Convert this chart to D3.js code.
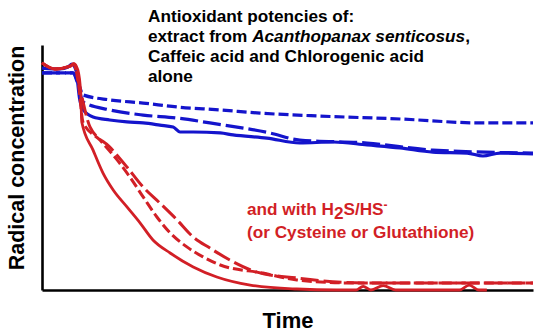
<!DOCTYPE html>
<html>
<head>
<meta charset="utf-8">
<script src="https://cdn.jsdelivr.net/npm/d3@7"></script>
<style>
  body { margin: 0; background: #fff; }
  svg text { font-family: "Liberation Sans", Arial, Helvetica, sans-serif; font-weight: bold; }
</style>
</head>
<body>
<svg id="chart"></svg>
<script>
// Values: time 0..100, radical concentration 0..100
var blueSolidT  = [0, 3.7, 5.3, 6.1, 6.9, 7.7, 8.4, 10.4, 13.8, 17.3, 20.6, 24, 26.7, 28.1, 30.8, 36.3, 38.9, 45.8, 52.5, 59.3, 66.2, 72.9, 79.6, 86.6, 89.8, 93.3, 100];
var blueSolidC  = [90.6, 90.2, 91, 92.2, 89.8, 77.6, 73.5, 70.6, 69.4, 68.6, 68.2, 67.3, 66.5, 64.5, 64.5, 64.1, 63.3, 62, 60, 60.4, 59.2, 58, 56.3, 55.9, 54.7, 55.9, 55.5];
var blueLongT   = [0, 6.3, 7.3, 8.4, 13.8, 20.6, 27.5, 34.2, 46.4, 52.5, 66.2, 79.6, 100];
var blueLongC   = [88.6, 88.6, 84, 76.7, 73.5, 71.4, 70.2, 68.2, 64.1, 61.2, 60, 57.1, 55.9];
var blueShortT  = [0, 6.3, 7.3, 8.4, 13.8, 20.6, 27.5, 36.3, 44.4, 56.6, 72.9, 89.2, 100];
var blueShortC  = [88.6, 88.6, 85, 79.6, 77.6, 76.3, 74.7, 73.5, 72.2, 71, 69.8, 68.2, 68.2];
var redSolidT   = [0, 1.6, 2.6, 5.7, 6.5, 7.3, 7.9, 8.1, 10.4, 12.4, 14.5, 17.3, 20, 22.6, 26.1, 30.8, 35.6, 42.4, 51.9, 60, 64, 65.4, 67, 69.5, 72, 85, 87, 89, 90.6];
var redSolidC   = [92.7, 90.8, 90.2, 91.4, 92.4, 89.8, 80, 68.6, 57.1, 47.8, 40.8, 33.9, 27.3, 20.4, 15.1, 9.4, 5.3, 2, 0.4, 0, 0, 1.5, 0, 1.8, 0, 0, 2, 0, 0];
var redShortT   = [0, 2.6, 5.7, 6.5, 7.3, 8.4, 11.8, 15.3, 17.9, 20.6, 23.4, 26.1, 29.5, 32.8, 36.3, 45, 51.9, 62.1, 70, 80, 90, 100];
var redShortC   = [92.7, 90.2, 91.4, 92.2, 86, 68.2, 61.2, 53.1, 46.1, 38, 29.8, 23.3, 17.6, 13.5, 10.2, 6.9, 4.1, 2.9, 2.9, 2.9, 2.9, 2.9];
var redLongT    = [0, 2.6, 5.7, 6.5, 7.3, 9.8, 13.8, 17.3, 20.6, 24, 27.5, 30.8, 34.2, 38.3, 43.8, 51.9, 65.4, 80, 100];
var redLongC    = [92.7, 90.2, 91.4, 92.2, 86, 66.5, 58.4, 50.2, 42, 35.5, 28.6, 21.6, 17.1, 12.2, 7.3, 4.9, 2.9, 2.9, 2.9];

var titleLines = ["Antioxidant potencies of:", "extract from ", "Caffeic acid and Chlorogenic acid", "alone"];
var blue = "#1414cc", red = "#d21f26";

var width = 550, height = 333;
var svg = d3.select("#chart").attr("width", width).attr("height", height);

var x = d3.scaleLinear().domain([0, 100]).range([42, 533]);
var y = d3.scaleLinear().domain([0, 100]).range([290, 45]);

function zip(ts, cs) { return ts.map(function (t, i) { return [t, cs[i]]; }); }

var line = d3.line()
    .x(function (d) { return x(d[0]); })
    .y(function (d) { return y(d[1]); })
    .curve(d3.curveMonotoneX);

var series = [
    { data: zip(blueShortT, blueShortC), color: blue, dash: "10,4", w: 3.2 },
    { data: zip(blueLongT, blueLongC), color: blue, dash: "18,5", w: 3.2 },
    { data: zip(blueSolidT, blueSolidC), color: blue, dash: null, w: 3.2 },
    { data: zip(redShortT, redShortC), color: red, dash: "10,4", w: 3 },
    { data: zip(redLongT, redLongC), color: red, dash: "18,5", w: 3 },
    { data: zip(redSolidT, redSolidC), color: red, dash: null, w: 2.8 }
];

// axes: plain L, no ticks
svg.append("g").attr("transform", "translate(0," + y(0) + ")")
    .call(d3.axisBottom(x).ticks(0).tickSizeOuter(0))
    .select(".domain").attr("stroke-width", 2.6).attr("stroke", "#000");
svg.append("g").attr("transform", "translate(" + x(0) + ",0)")
    .call(d3.axisLeft(y).ticks(0).tickSizeOuter(0))
    .select(".domain").attr("stroke-width", 2.6).attr("stroke", "#000");

svg.selectAll("path.series").data(series).enter().append("path")
    .attr("class", "series")
    .attr("d", function (d) { return line(d.data); })
    .attr("fill", "none")
    .attr("stroke", function (d) { return d.color; })
    .attr("stroke-width", function (d) { return d.w; })
    .attr("stroke-dasharray", function (d) { return d.dash; })
    .attr("stroke-linejoin", "round");

// title
var title = svg.append("text").attr("font-size", 17.2).attr("fill", "#000");
title.append("tspan").attr("x", 148).attr("y", 22).text(titleLines[0]);
title.append("tspan").attr("x", 148).attr("y", 42).text(titleLines[1]);
title.append("tspan").attr("font-style", "italic").text("Acanthopanax senticosus");
title.append("tspan").text(",");
title.append("tspan").attr("x", 148).attr("y", 62).text(titleLines[2]);
title.append("tspan").attr("x", 148).attr("y", 82).text(titleLines[3]);

// red note
var note = svg.append("text").attr("font-size", 17.2).attr("fill", red);
note.append("tspan").attr("x", 247).attr("y", 215).text("and with H");
note.append("tspan").attr("dy", 4).text("2");
note.append("tspan").attr("dy", -4).text("S/HS");
note.append("tspan").attr("dy", -6).attr("font-size", 12).text("-");
note.append("tspan").attr("x", 247).attr("y", 238).text("(or Cysteine or Glutathione)");

// axis labels
svg.append("text").attr("x", 288).attr("y", 328).attr("text-anchor", "middle")
    .attr("font-size", 22).text("Time");
svg.append("text").attr("transform", "translate(24,158) rotate(-90)").attr("text-anchor", "middle")
    .attr("font-size", 21.5).text("Radical concentration");
</script>
</body>
</html>
